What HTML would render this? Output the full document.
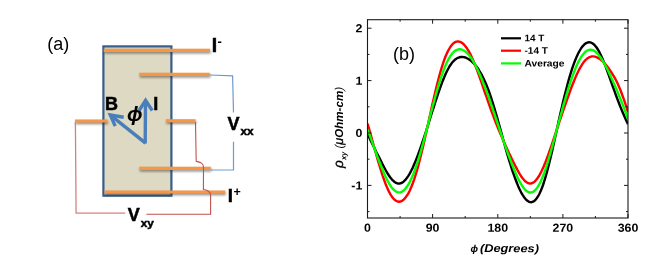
<!DOCTYPE html>
<html><head><meta charset="utf-8"><title>Figure</title>
<style>
html,body{margin:0;padding:0;background:#fff;}
body{width:664px;height:265px;overflow:hidden;}
svg{display:block;}
text{font-family:"Liberation Sans",sans-serif;fill:#000;}
.b{font-weight:bold;}
.bi{font-weight:bold;font-style:italic;}
</style></head><body>
<svg width="664" height="265" viewBox="0 0 664 265">
<defs>
<clipPath id="cp"><rect x="367.5" y="19.7" width="260.5" height="198.3"/></clipPath>
<filter id="sh" filterUnits="userSpaceOnUse" x="0" y="0" width="664" height="265"><feGaussianBlur stdDeviation="0.8"/></filter>
</defs>
<rect width="664" height="265" fill="#fff"/>

<g id="diagram">
<rect x="103.4" y="46.4" width="68" height="149.3" fill="#ddd9c3" stroke="#385d8a" stroke-width="2.2"/>
<rect x="104.3" y="50.199999999999996" width="106.3" height="3.3" fill="#2a2618" fill-opacity="0.5" filter="url(#sh)"/>
<rect x="139.79999999999998" y="74.30000000000001" width="70.60000000000002" height="3.3" fill="#2a2618" fill-opacity="0.5" filter="url(#sh)"/>
<rect x="75.6" y="120.9" width="32.3" height="3.3" fill="#2a2618" fill-opacity="0.5" filter="url(#sh)"/>
<rect x="166.5" y="120.7" width="29.599999999999994" height="3.3" fill="#2a2618" fill-opacity="0.5" filter="url(#sh)"/>
<rect x="139.79999999999998" y="168.20000000000002" width="71.60000000000002" height="3.3" fill="#2a2618" fill-opacity="0.5" filter="url(#sh)"/>
<rect x="105.1" y="191.9" width="120.69999999999999" height="3.3" fill="#2a2618" fill-opacity="0.5" filter="url(#sh)"/>
<line x1="103.7" y1="50.3" x2="210" y2="50.3" stroke="#f79646" stroke-width="3.2"/>
<line x1="139.2" y1="74.4" x2="209.8" y2="74.4" stroke="#f79646" stroke-width="3.2"/>
<line x1="75" y1="121" x2="107.3" y2="121" stroke="#f79646" stroke-width="3.2"/>
<line x1="165.9" y1="120.8" x2="195.5" y2="120.8" stroke="#f79646" stroke-width="3.2"/>
<line x1="139.2" y1="168.3" x2="210.8" y2="168.3" stroke="#f79646" stroke-width="3.2"/>
<line x1="104.5" y1="192" x2="225.2" y2="192" stroke="#f79646" stroke-width="3.2"/>
<path d="M209.8,75 L232.6,75.9 L233.5,112.4" fill="none" stroke="#5f8fcb" stroke-width="1.2" stroke-opacity="0.9"/>
<path d="M233.5,141.7 L233.5,170 L210.8,170" fill="none" stroke="#5f8fcb" stroke-width="1.2" stroke-opacity="0.9"/>
<path d="M195.5,122 L196.2,161.3 C199.5,162.2 203.5,162.5 203.5,167.5 L203.4,189.5 C207,190.3 210.6,191 210.6,195.5 L210.6,214.3 L146.4,214.3" fill="none" stroke="#c0504d" stroke-width="1.1"/>
<path d="M75.4,122.5 L76.1,213.2 L125.2,213.2" fill="none" stroke="#c9605e" stroke-width="1.3" stroke-opacity="0.8"/>
<g fill="none" stroke="#4a7ebb" stroke-width="3.4" stroke-linejoin="miter">
<path d="M145.2,143.5 L145.5,102"/>
<path d="M139.1,110.5 L145.6,100.3 L152.2,110.5"/>
<path d="M145.6,143.2 L111,115.7"/>
<path d="M123.7,117.3 L110.3,115 L115.2,126.1"/>
</g>
<text x="47.3" y="49.9" font-size="18">(a)</text>
<g stroke="#000" stroke-width="0.5">
<text class="b" x="104.9" y="109.5" font-size="18">B</text>
<text class="b" x="153.3" y="109.5" font-size="18">I</text>
</g>
<text class="bi" x="127" y="120.5" font-size="20.5">ϕ</text>
<g stroke="#000" stroke-width="0.5">
<text class="b" x="211.8" y="52" font-size="19.5">I<tspan font-size="13" dy="-6" dx="0.4" stroke="none">-</tspan></text>
<text class="b" x="227.5" y="130" font-size="18">V<tspan font-size="11.8" dy="5.1" dx="0.9">xx</tspan></text>
<text class="b" x="227.7" y="202.3" font-size="18.8">I<tspan font-size="12.5" dy="-6.6" dx="0.5" stroke="none">+</tspan></text>
<text class="b" x="127.7" y="221.2" font-size="18">V<tspan font-size="11.8" dy="5.7" dx="1.1">xy</tspan></text>
</g>
</g>
<g id="chart">
<g clip-path="url(#cp)">
<path d="M367.5,134.0 L369.0,137.1 L370.5,140.2 L372.0,143.3 L373.5,146.3 L375.0,149.3 L376.5,152.4 L378.0,155.4 L379.6,158.4 L381.1,161.4 L382.6,164.4 L384.1,167.2 L385.6,170.0 L387.1,172.6 L388.6,175.0 L390.1,177.2 L391.6,179.1 L393.1,180.7 L394.6,182.0 L396.1,182.9 L397.6,183.5 L399.1,183.6 L400.6,183.3 L402.1,182.7 L403.6,181.6 L405.1,180.2 L406.6,178.3 L408.2,176.1 L409.7,173.6 L411.2,170.8 L412.7,167.7 L414.2,164.3 L415.7,160.7 L417.2,156.9 L418.7,152.9 L420.2,148.7 L421.7,144.4 L423.2,140.0 L424.7,135.4 L426.2,130.8 L427.7,126.0 L429.2,121.3 L430.7,116.5 L432.2,111.7 L433.8,107.0 L435.3,102.2 L436.8,97.6 L438.3,93.1 L439.8,88.8 L441.3,84.7 L442.8,80.7 L444.3,77.0 L445.8,73.6 L447.3,70.5 L448.8,67.7 L450.3,65.2 L451.8,63.1 L453.3,61.3 L454.8,59.8 L456.3,58.7 L457.9,57.8 L459.4,57.3 L460.9,57.0 L462.4,56.9 L463.9,57.1 L465.4,57.5 L466.9,58.2 L468.4,59.0 L469.9,60.0 L471.4,61.1 L472.9,62.5 L474.4,64.1 L475.9,65.8 L477.4,67.8 L478.9,70.0 L480.4,72.5 L481.9,75.2 L483.4,78.2 L484.9,81.5 L486.5,85.1 L488.0,88.9 L489.5,93.0 L491.0,97.4 L492.5,102.0 L494.0,106.9 L495.5,112.0 L497.0,117.2 L498.5,122.5 L500.0,127.9 L501.5,133.4 L503.0,138.8 L504.5,144.3 L506.0,149.6 L507.5,154.9 L509.0,159.9 L510.6,164.9 L512.0,169.6 L513.6,174.1 L515.1,178.3 L516.6,182.2 L518.1,185.9 L519.6,189.3 L521.1,192.3 L522.6,194.9 L524.1,197.2 L525.6,199.1 L527.1,200.6 L528.6,201.6 L530.1,202.1 L531.6,202.2 L533.1,201.7 L534.6,200.7 L536.1,199.1 L537.6,197.0 L539.2,194.3 L540.7,191.1 L542.2,187.3 L543.7,183.0 L545.2,178.2 L546.7,172.9 L548.2,167.3 L549.7,161.3 L551.2,154.9 L552.7,148.4 L554.2,141.7 L555.7,134.8 L557.2,127.9 L558.7,121.1 L560.2,114.3 L561.8,107.6 L563.2,101.2 L564.8,94.9 L566.3,89.0 L567.8,83.3 L569.3,77.9 L570.8,72.9 L572.3,68.2 L573.8,63.9 L575.3,60.0 L576.8,56.4 L578.3,53.2 L579.8,50.5 L581.3,48.0 L582.8,46.1 L584.3,44.5 L585.8,43.3 L587.3,42.6 L588.9,42.3 L590.4,42.4 L591.9,43.0 L593.4,44.0 L594.9,45.4 L596.4,47.3 L597.9,49.5 L599.4,52.2 L600.9,55.2 L602.4,58.5 L603.9,62.1 L605.4,65.9 L606.9,70.0 L608.4,74.1 L609.9,78.3 L611.4,82.6 L612.9,86.9 L614.5,91.2 L616.0,95.3 L617.5,99.4 L619.0,103.3 L620.5,107.1 L622.0,110.8 L623.5,114.3 L625.0,117.7 L626.5,121.0 L628.0,124.2" fill="none" stroke="#000" stroke-width="2.4" stroke-linejoin="round"/>
<path d="M367.5,123.6 L369.0,128.7 L370.5,133.9 L372.0,139.3 L373.5,144.7 L375.0,150.1 L376.5,155.5 L378.0,160.8 L379.6,165.9 L381.1,170.9 L382.6,175.6 L384.1,179.9 L385.6,184.0 L387.1,187.6 L388.6,190.9 L390.1,193.8 L391.6,196.2 L393.1,198.2 L394.6,199.8 L396.1,200.9 L397.6,201.5 L399.1,201.7 L400.6,201.5 L402.1,200.8 L403.6,199.6 L405.1,198.1 L406.6,196.0 L408.2,193.6 L409.7,190.7 L411.2,187.3 L412.7,183.5 L414.2,179.3 L415.7,174.6 L417.2,169.6 L418.7,164.1 L420.2,158.3 L421.7,152.3 L423.2,145.9 L424.7,139.3 L426.2,132.6 L427.7,125.7 L429.2,118.8 L430.7,111.9 L432.2,105.0 L433.8,98.3 L435.3,91.8 L436.8,85.6 L438.3,79.7 L439.8,74.1 L441.3,68.9 L442.8,64.1 L444.3,59.7 L445.8,55.8 L447.3,52.4 L448.8,49.5 L450.3,47.0 L451.8,45.0 L453.3,43.4 L454.8,42.3 L456.3,41.6 L457.9,41.4 L459.4,41.6 L460.9,42.2 L462.4,43.1 L463.9,44.5 L465.4,46.2 L466.9,48.3 L468.4,50.7 L469.9,53.4 L471.4,56.4 L472.9,59.7 L474.4,63.3 L475.9,67.0 L477.4,71.0 L478.9,75.1 L480.4,79.4 L481.9,83.7 L483.4,88.1 L484.9,92.5 L486.5,96.9 L488.0,101.3 L489.5,105.6 L491.0,109.8 L492.5,113.9 L494.0,117.9 L495.5,121.8 L497.0,125.6 L498.5,129.3 L500.0,132.9 L501.5,136.4 L503.0,139.8 L504.5,143.2 L506.0,146.5 L507.5,149.8 L509.0,153.0 L510.6,156.2 L512.0,159.4 L513.6,162.5 L515.1,165.5 L516.6,168.4 L518.1,171.2 L519.6,173.8 L521.1,176.2 L522.6,178.3 L524.1,180.1 L525.6,181.6 L527.1,182.6 L528.6,183.3 L530.1,183.6 L531.6,183.3 L533.1,182.7 L534.6,181.6 L536.1,180.0 L537.6,178.0 L539.2,175.7 L540.7,172.9 L542.2,169.8 L543.7,166.4 L545.2,162.8 L546.7,158.9 L548.2,154.8 L549.7,150.6 L551.2,146.3 L552.7,141.9 L554.2,137.4 L555.7,132.9 L557.2,128.4 L558.7,123.9 L560.2,119.4 L561.8,115.0 L563.2,110.5 L564.8,106.1 L566.3,101.8 L567.8,97.5 L569.3,93.3 L570.8,89.2 L572.3,85.3 L573.8,81.5 L575.3,77.9 L576.8,74.5 L578.3,71.3 L579.8,68.4 L581.3,65.8 L582.8,63.4 L584.3,61.4 L585.8,59.8 L587.3,58.4 L588.9,57.4 L590.4,56.8 L591.9,56.4 L593.4,56.4 L594.9,56.6 L596.4,57.1 L597.9,57.8 L599.4,58.8 L600.9,59.9 L602.4,61.2 L603.9,62.7 L605.4,64.3 L606.9,66.1 L608.4,68.0 L609.9,70.1 L611.4,72.4 L612.9,74.8 L614.5,77.4 L616.0,80.3 L617.5,83.3 L619.0,86.7 L620.5,90.3 L622.0,94.2 L623.5,98.3 L625.0,102.7 L626.5,107.3 L628.0,112.2" fill="none" stroke="#ff0000" stroke-width="2.4" stroke-linejoin="round"/>
<path d="M367.5,129.2 L369.0,133.3 L370.5,137.4 L372.0,141.6 L373.5,145.8 L375.0,150.0 L376.5,154.2 L378.0,158.3 L379.6,162.3 L381.1,166.2 L382.6,169.9 L384.1,173.5 L385.6,176.8 L387.1,179.9 L388.6,182.7 L390.1,185.2 L391.6,187.4 L393.1,189.2 L394.6,190.6 L396.1,191.6 L397.6,192.2 L399.1,192.4 L400.6,192.2 L402.1,191.6 L403.6,190.5 L405.1,189.0 L406.6,187.1 L408.2,184.8 L409.7,182.1 L411.2,179.0 L412.7,175.6 L414.2,171.8 L415.7,167.6 L417.2,163.2 L418.7,158.4 L420.2,153.4 L421.7,148.2 L423.2,142.7 L424.7,137.1 L426.2,131.4 L427.7,125.6 L429.2,119.7 L430.7,113.9 L432.2,108.1 L433.8,102.4 L435.3,96.8 L436.8,91.4 L438.3,86.2 L439.8,81.3 L441.3,76.7 L442.8,72.3 L444.3,68.4 L445.8,64.7 L447.3,61.5 L448.8,58.6 L450.3,56.1 L451.8,54.0 L453.3,52.3 L454.8,51.0 L456.3,50.1 L457.9,49.5 L459.4,49.2 L460.9,49.3 L462.4,49.8 L463.9,50.5 L465.4,51.5 L466.9,52.9 L468.4,54.5 L469.9,56.3 L471.4,58.4 L472.9,60.8 L474.4,63.4 L475.9,66.2 L477.4,69.2 L478.9,72.4 L480.4,75.8 L481.9,79.4 L483.4,83.2 L484.9,87.1 L486.5,91.1 L488.0,95.2 L489.5,99.4 L491.0,103.8 L492.5,108.1 L494.0,112.6 L495.5,117.0 L497.0,121.5 L498.5,126.0 L500.0,130.5 L501.5,135.0 L503.0,139.4 L504.5,143.8 L506.0,148.1 L507.5,152.4 L509.0,156.5 L510.6,160.6 L512.0,164.5 L513.6,168.3 L515.1,171.9 L516.6,175.3 L518.1,178.5 L519.6,181.5 L521.1,184.2 L522.6,186.5 L524.1,188.5 L525.6,190.2 L527.1,191.4 L528.6,192.2 L530.1,192.5 L531.6,192.4 L533.1,191.8 L534.6,190.7 L536.1,189.1 L537.6,187.1 L539.2,184.5 L540.7,181.5 L542.2,178.1 L543.7,174.3 L545.2,170.1 L546.7,165.6 L548.2,160.7 L549.7,155.7 L551.2,150.4 L552.7,145.0 L554.2,139.5 L555.7,133.8 L557.2,128.2 L558.7,122.5 L560.2,116.9 L561.8,111.4 L563.2,105.9 L564.8,100.6 L566.3,95.4 L567.8,90.4 L569.3,85.6 L570.8,81.0 L572.3,76.7 L573.8,72.6 L575.3,68.8 L576.8,65.3 L578.3,62.1 L579.8,59.3 L581.3,56.8 L582.8,54.7 L584.3,52.9 L585.8,51.5 L587.3,50.5 L588.9,49.9 L590.4,49.7 L591.9,49.9 L593.4,50.4 L594.9,51.3 L596.4,52.5 L597.9,54.1 L599.4,55.9 L600.9,58.0 L602.4,60.3 L603.9,62.9 L605.4,65.6 L606.9,68.5 L608.4,71.5 L609.9,74.7 L611.4,78.0 L612.9,81.3 L614.5,84.8 L616.0,88.3 L617.5,91.8 L619.0,95.5 L620.5,99.2 L622.0,103.0 L623.5,106.8 L625.0,110.8 L626.5,114.7 L628.0,118.8" fill="none" stroke="#00ff00" stroke-width="2.4" stroke-linejoin="round"/>
</g>
<rect x="367.5" y="19.7" width="260.5" height="198.3" fill="none" stroke="#1a1a1a" stroke-width="1.1"/>
<path d="M367.5,19.7 v4 M367.5,218.0 v-4 M400.1,19.7 v2 M400.1,218.0 v-2 M432.6,19.7 v4 M432.6,218.0 v-4 M465.2,19.7 v2 M465.2,218.0 v-2 M497.8,19.7 v4 M497.8,218.0 v-4 M530.3,19.7 v2 M530.3,218.0 v-2 M562.9,19.7 v4 M562.9,218.0 v-4 M595.4,19.7 v2 M595.4,218.0 v-2 M628.0,19.7 v4 M628.0,218.0 v-4 M367.5,211.6 h2 M628.0,211.6 h-2 M367.5,185.4 h4 M628.0,185.4 h-4 M367.5,159.2 h2 M628.0,159.2 h-2 M367.5,133.0 h4 M628.0,133.0 h-4 M367.5,106.8 h2 M628.0,106.8 h-2 M367.5,80.6 h4 M628.0,80.6 h-4 M367.5,54.4 h2 M628.0,54.4 h-2 M367.5,28.2 h4 M628.0,28.2 h-4" fill="none" stroke="#1a1a1a" stroke-width="1"/>
<g class="b" font-size="11.7" text-anchor="middle">
<text class="b" transform="translate(367.5,231.7) rotate(0.05) scale(1.06,1)">0</text>
<text class="b" transform="translate(432.6,231.7) rotate(0.05) scale(1.06,1)">90</text>
<text class="b" transform="translate(497.8,231.7) rotate(0.05) scale(1.06,1)">180</text>
<text class="b" transform="translate(562.9,231.7) rotate(0.05) scale(1.06,1)">270</text>
<text class="b" transform="translate(628.0,231.7) rotate(0.05) scale(1.06,1)">360</text>
</g>
<g font-size="11.7" text-anchor="end">
<text class="b" transform="translate(362.3,189.5) rotate(0.05) scale(1.06,1)">-1</text>
<text class="b" transform="translate(362.3,137.1) rotate(0.05) scale(1.06,1)">0</text>
<text class="b" transform="translate(362.3,84.7) rotate(0.05) scale(1.06,1)">1</text>
<text class="b" transform="translate(362.3,32.3) rotate(0.05) scale(1.06,1)">2</text>
</g>
<line x1="501" y1="38.3" x2="521" y2="38.3" stroke="#000" stroke-width="2.2"/>
<text class="b" transform="translate(524.5,41.3) rotate(0.05) scale(0.5)" x="0" y="0" font-size="19" textLength="39.6" lengthAdjust="spacingAndGlyphs">14 T</text>
<line x1="501" y1="50.7" x2="521" y2="50.7" stroke="#ff0000" stroke-width="2.2"/>
<text class="b" transform="translate(524.5,53.7) rotate(0.05) scale(0.5)" x="0" y="0" font-size="19" textLength="46.8" lengthAdjust="spacingAndGlyphs">-14 T</text>
<line x1="501" y1="63.4" x2="521" y2="63.4" stroke="#00ff00" stroke-width="2.2"/>
<text class="b" transform="translate(524.5,66.4) rotate(0.05) scale(0.5)" x="0" y="0" font-size="19" textLength="80" lengthAdjust="spacingAndGlyphs">Average</text>
<text x="392.9" y="60" font-size="18">(b)</text>
<text class="bi" transform="translate(470.4,252.1) rotate(0.05)" font-size="10">ϕ</text>
<text class="bi" transform="translate(479.9,252.1) rotate(0.05)" font-size="11.2" textLength="59" lengthAdjust="spacingAndGlyphs">(Degrees)</text>
<text class="bi" transform="translate(343.0,167.9) rotate(-90.05)" font-size="11.5" textLength="81" lengthAdjust="spacingAndGlyphs"><tspan font-weight="normal" font-size="13.5" stroke="#000" stroke-width="0.35">ρ</tspan><tspan font-size="7.5" dy="3.2">xy</tspan><tspan dy="-3.2" font-weight="normal"> (</tspan><tspan font-weight="normal" font-size="12.5" stroke="#000" stroke-width="0.3">μ</tspan>Ohm-cm<tspan font-weight="normal">)</tspan></text>
</g>
</svg></body></html>
